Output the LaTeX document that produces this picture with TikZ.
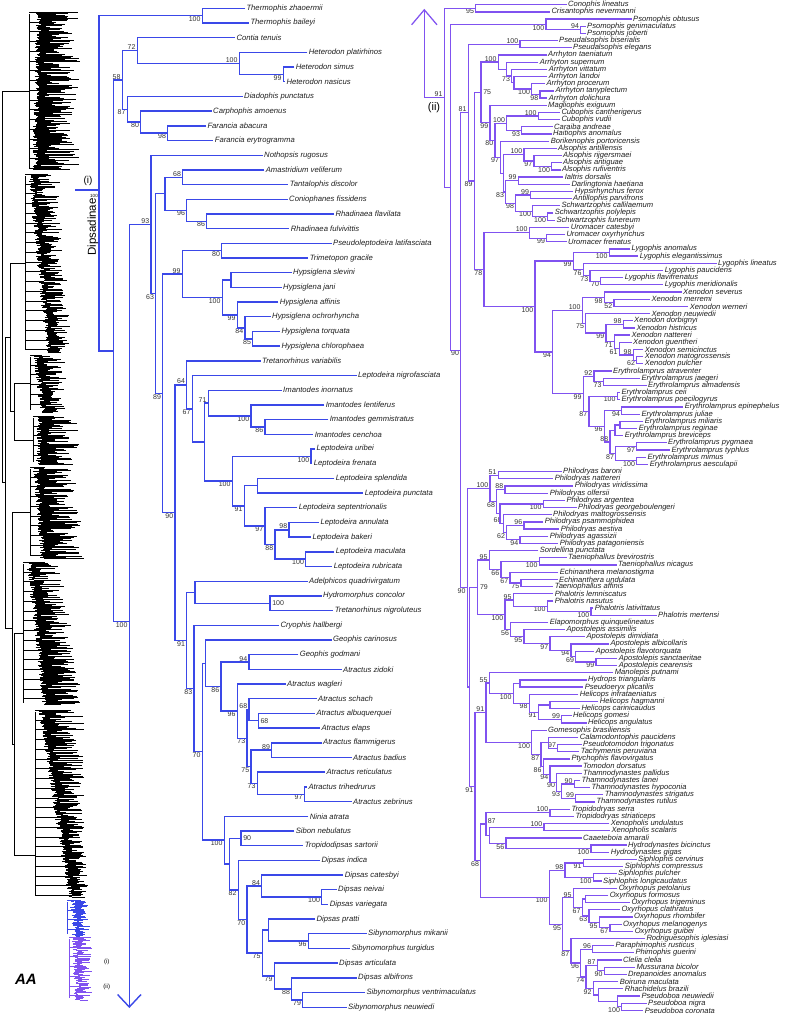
\documentclass[tikz,border=0pt]{standalone}
\usepackage{fontspec}
\setmainfont{Liberation Sans}
\usetikzlibrary{calc}
\definecolor{cbi}{RGB}{58,72,232}
\definecolor{cbii}{RGB}{128,82,240}
\newcommand\LfA[4]{\coordinate (#1) at (#3,{8.3+(#2-1)*14.69}); \node[lfA] (#1t) at (#1) {#4};}
\newcommand\LfB[4]{\coordinate (#1) at (#3,{4.7+(#2-1)*7.183}); \node[lfB] (#1t) at (#1) {#4};}
\newcommand\Nu[5]{\path let \p1=(#4), \p2=(#5) in coordinate (#2) at (#3,{0.5*(\y1)+0.5*(\y2)}); \draw[#1] (#4) -| (#2) |- (#5);}
\newcommand\Nd[7]{\Nu{#1}{#2}{#3}{#4}{#5}\node[bs,#7] (#2l) at (#2) {#6};}
\tikzset{
 brI/.style={draw=cbi, line width=1.4pt, line join=miter},
 brII/.style={draw=cbii, line width=1.25pt, line join=miter},
 lfA/.style={anchor=west, inner sep=1.3pt, font=\itshape\fontsize{7.7}{8}\selectfont, text=black!88},
 lfB/.style={anchor=west, inner sep=1.3pt, font=\itshape\fontsize{7.6}{8}\selectfont, text=black!88},
 bs/.style={inner sep=0.6pt, font=\fontsize{7}{7}\selectfont, text=black!80},
 labAL/.style={anchor=south east, xshift=-1pt},
 labBL/.style={anchor=north east, xshift=-1pt},
 labR/.style={anchor=west, xshift=1.5pt},
 labAR/.style={anchor=south west, xshift=1pt},
 fz/.style={line width=0.45pt},
}
\begin{document}
\begin{tikzpicture}[x=1pt,y=-1pt]
\useasboundingbox (0,0) rectangle (785,1015);
% ---------------- left overview tree ----------------
\pgfmathsetseed{11}
\foreach \fya/\fyb/\fsa/\fsb/\fla/\flb/\fcc in {
 12/170/36/32/40/42/black,
 174/352/28/46/26/22/black,
 355/412/33/40/28/22/black,
 416/464/36/36/42/35/black,
 467/558/33/40/35/42/black,
 562/705/26/42/28/38/black,
 710/898/38/68/40/18/black,
 900/936/70/72/14/14/cbi,
 937/1000/72/74/16/12/cbii}{
  \pgfmathtruncatemacro{\fnn}{(\fyb-\fya)/0.75}
  \pgfmathsetmacro{\fxst}{min(\fsa,\fsb)-3}
  \draw[fz,draw=\fcc] (\fxst,{\fya+2}) -- (\fxst,{\fyb-2});
  \foreach \fk in {0,...,\fnn}{
    \pgfmathsetmacro{\fyy}{\fya+\fk*0.75}
    \pgfmathsetmacro{\ftq}{\fk/\fnn}
    \pgfmathsetmacro{\fxs}{\fsa+(\fsb-\fsa)*\ftq+6*rnd}
    \pgfmathsetmacro{\fxe}{\fxs+(\fla+(\flb-\fla)*\ftq)*(0.15+0.85*rnd)}
    \pgfmathsetmacro{\fxb}{mod(\fk,13)==0 ? \fxst : \fxs}
    \draw[fz,draw=\fcc] (\fxb,\fyy) -- (\fxe,\fyy);
  }
}
\draw[fz] (30,91) -| (2,482) -- (5,482);
\draw[fz] (10,337) -| (5,628) -- (12,628);
\draw[fz] (25,263) -| (10,411) -- (14,411);
\draw[fz] (30,383) -| (14,440) -- (33,440);
\draw[fz] (30,512) -| (12,744) -- (14,744);
\draw[fz] (23,633) -| (14,855) -- (35,855);
\node[font=\bfseries\itshape\fontsize{15}{15}\selectfont] (tAA) at (26,979) {AA};
\node[font=\fontsize{6}{6}\selectfont] (tbi) at (106.7,961.7) {(i)};
\node[font=\fontsize{6}{6}\selectfont] (tbii) at (106.7,986.7) {(ii)};
% ---------------- panel (i) ----------------
\LfA{a1}{1}{245}{Thermophis zhaoermii}
\LfA{a2}{2}{249}{Thermophis baileyi}
\LfA{a3}{3}{235}{Contia tenuis}
\LfA{a4}{4}{307.3}{Heterodon platirhinos}
\LfA{a5}{5}{294.3}{Heterodon simus}
\LfA{a6}{6}{285}{Heterodon nasicus}
\LfA{a7}{7}{242.7}{Diadophis punctatus}
\LfA{a8}{8}{211.7}{Carphophis amoenus}
\LfA{a9}{9}{206}{Farancia abacura}
\LfA{a10}{10}{213.3}{Farancia erytrogramma}
\LfA{a11}{11}{262.7}{Nothopsis rugosus}
\LfA{a12}{12}{264.3}{Amastridium veliferum}
\LfA{a13}{13}{288.3}{Tantalophis discolor}
\LfA{a14}{14}{287.7}{Coniophanes fissidens}
\LfA{a15}{15}{334}{Rhadinaea flavilata}
\LfA{a16}{16}{289.3}{Rhadinaea fulvivittis}
\LfA{a17}{17}{331.7}{Pseudoleptodeira latifasciata}
\LfA{a18}{18}{308.3}{Trimetopon gracile}
\LfA{a19}{19}{291.7}{Hypsiglena slevini}
\LfA{a20}{20}{281.7}{Hypsiglena jani}
\LfA{a21}{21}{278.3}{Hypsiglena affinis}
\LfA{a22}{22}{270.7}{Hypsiglena ochrorhyncha}
\LfA{a23}{23}{280}{Hypsiglena torquata}
\LfA{a24}{24}{280}{Hypsiglena chlorophaea}
\LfA{a25}{25}{260.7}{Tretanorhinus variabilis}
\LfA{a26}{26}{356.7}{Leptodeira nigrofasciata}
\LfA{a27}{27}{281.7}{Imantodes inornatus}
\LfA{a28}{28}{324.3}{Imantodes lentiferus}
\LfA{a29}{29}{328.3}{Imantodes gemmistratus}
\LfA{a30}{30}{313.3}{Imantodes cenchoa}
\LfA{a31}{31}{315}{Leptodeira uribei}
\LfA{a32}{32}{312.3}{Leptodeira frenata}
\LfA{a33}{33}{334.3}{Leptodeira splendida}
\LfA{a34}{34}{363.3}{Leptodeira punctata}
\LfA{a35}{35}{297.3}{Leptodeira septentrionalis}
\LfA{a36}{36}{319}{Leptodeira annulata}
\LfA{a37}{37}{311}{Leptodeira bakeri}
\LfA{a38}{38}{334.3}{Leptodeira maculata}
\LfA{a39}{39}{332.3}{Leptodeira rubricata}
\LfA{a40}{40}{307.7}{Adelphicos quadrivirgatum}
\LfA{a41}{41}{321.7}{Hydromorphus concolor}
\LfA{a42}{42}{333.3}{Tretanorhinus nigroluteus}
\LfA{a43}{43}{279}{Cryophis hallbergi}
\LfA{a44}{44}{331.7}{Geophis carinosus}
\LfA{a45}{45}{298.3}{Geophis godmani}
\LfA{a46}{46}{341.7}{Atractus zidoki}
\LfA{a47}{47}{285.7}{Atractus wagleri}
\LfA{a48}{48}{316.7}{Atractus schach}
\LfA{a49}{49}{315}{Atractus albuquerquei}
\LfA{a50}{50}{320}{Atractus elaps}
\LfA{a51}{51}{321.7}{Atractus flammigerus}
\LfA{a52}{52}{351.7}{Atractus badius}
\LfA{a53}{53}{325}{Atractus reticulatus}
\LfA{a54}{54}{307}{Atractus trihedrurus}
\LfA{a55}{55}{351.7}{Atractus zebrinus}
\LfA{a56}{56}{308.3}{Ninia atrata}
\LfA{a57}{57}{294.3}{Sibon nebulatus}
\LfA{a58}{58}{303.3}{Tropidodipsas sartorii}
\LfA{a59}{59}{320}{Dipsas indica}
\LfA{a60}{60}{343.3}{Dipsas catesbyi}
\LfA{a61}{61}{336.7}{Dipsas neivai}
\LfA{a62}{62}{328.3}{Dipsas variegata}
\LfA{a63}{63}{315}{Dipsas pratti}
\LfA{a64}{64}{366.7}{Sibynomorphus mikanii}
\LfA{a65}{65}{350}{Sibynomorphus turgidus}
\LfA{a66}{66}{337.7}{Dipsas articulata}
\LfA{a67}{67}{356.7}{Dipsas albifrons}
\LfA{a68}{68}{365}{Sibynomorphus ventrimaculatus}
\LfA{a69}{69}{346.7}{Sibynomorphus neuwiedi}
\Nd{brI}{pT}{202.3}{a1}{a2}{100}{labBL}
\Nd{brI}{ph99}{283.3}{a5}{a6}{99}{labBL}
\Nd{brI}{ph100}{239.3}{a4}{ph99}{100}{labAL}
\Nd{brI}{p72}{137.3}{a3}{ph100}{72}{labAL}
\Nd{brI}{pf98}{167.7}{a9}{a10}{98}{labBL}
\Nd{brI}{p80}{140.7}{a8}{pf98}{80}{labBL}
\Nd{brI}{p87}{127.3}{a7}{p80}{87}{labBL}
\Nd{brI}{p58}{122.3}{p72}{p87}{58}{labAL}
\Nd{brI}{pam68}{182.7}{a12}{a13}{68}{labAL}
\Nd{brI}{prh86}{206.7}{a15}{a16}{86}{labBL}
\Nd{brI}{pco96}{186.7}{a14}{prh86}{96}{labBL}
\Nu{brI}{pnA}{165}{pam68}{pco96}
\Nd{brI}{pps80}{221.7}{a17}{a18}{80}{labBL}
\Nu{brI}{phsj}{231}{a19}{a20}
\Nd{brI}{ph85}{252.7}{a23}{a24}{85}{labBL}
\Nd{brI}{ph84}{245}{a22}{ph85}{84}{labBL}
\Nd{brI}{phy99}{237.3}{a21}{ph84}{99}{labBL}
\Nd{brI}{phy100}{222.3}{phsj}{phy99}{100}{labBL}
\Nd{brI}{pn99}{182.3}{pps80}{phy100}{99}{labAL}
\Nd{brI}{pi86}{265}{a29}{a30}{86}{labBL}
\Nd{brI}{pi100}{251}{a28}{pi86}{100}{labBL}
\Nd{brI}{pi71}{208.3}{a27}{pi100}{71}{labAL}
\Nd{brI}{puf100}{311}{a31}{a32}{100}{labBL}
\Nu{brI}{plsp}{257.7}{a33}{a34}
\Nd{brI}{pl98}{289}{a36}{a37}{98}{labAL}
\Nd{brI}{pl100}{305.7}{a38}{a39}{100}{labBL}
\Nd{brI}{pl88}{275}{pl98}{pl100}{88}{labBL}
\Nd{brI}{pl97}{265}{a35}{pl88}{97}{labBL}
\Nd{brI}{pl91}{244.3}{plsp}{pl97}{91}{labBL}
\Nd{brI}{pL100}{232.3}{puf100}{pl91}{100}{labBL}
\Nu{brI}{pnim}{204.3}{pi71}{pL100}
\Nd{brI}{pn67}{192.3}{a26}{pnim}{67}{labBL}
\Nd{brI}{pn64}{186.7}{a25}{pn67}{64}{labAL}
\Nd{brI}{phd100}{270}{a41}{a42}{100}{labR}
\Nu{brI}{pnad}{195}{a40}{phd100}
\Nd{brI}{pg94}{249}{a45}{a46}{94}{labAL}
\Nd{brI}{pae68}{258.3}{a49}{a50}{68}{labR}
\Nd{brI}{ps68}{249}{a48}{pae68}{68}{labAL}
\Nd{brI}{pf89}{271.7}{a51}{a52}{89}{labAL}
\Nd{brI}{pt97}{304.3}{a54}{a55}{97}{labBL}
\Nd{brI}{pr73}{257.3}{a53}{pt97}{73}{labBL}
\Nd{brI}{pa75}{251}{pf89}{pr73}{75}{labBL}
\Nd{brI}{pa73}{247}{ps68}{pa75}{73}{labBL}
\Nd{brI}{pa96}{237.3}{a47}{pa73}{96}{labBL}
\Nd{brI}{pg86}{221}{pg94}{pa96}{86}{labBL}
\Nu{brI}{pngc}{205.7}{a44}{pg86}
\Nd{brI}{ps90}{241}{a57}{a58}{90}{labR}
\Nd{brI}{pdv100}{321.7}{a61}{a62}{100}{labBL}
\Nd{brI}{pd84}{261.7}{a60}{pdv100}{84}{labAL}
\Nd{brI}{ps96}{308.3}{a64}{a65}{96}{labBL}
\Nu{brI}{pnps}{268.3}{a63}{ps96}
\Nd{brI}{ps79}{302.7}{a68}{a69}{79}{labBL}
\Nd{brI}{pd88}{291.7}{a67}{ps79}{88}{labBL}
\Nd{brI}{pd79}{274.3}{a66}{pd88}{79}{labBL}
\Nd{brI}{pd75}{262.3}{pnps}{pd79}{75}{labBL}
\Nd{brI}{pd70}{247}{pd84}{pd75}{70}{labBL}
\Nd{brI}{pd82}{238.3}{a59}{pd70}{82}{labBL}
\Nu{brI}{pnx}{229.3}{ps90}{pd82}
\Nd{brI}{pn100n}{224.3}{a56}{pnx}{100}{labBL}
\Nd{brI}{pn70}{202.3}{pngc}{pn100n}{70}{labBL}
\Nd{brI}{pn83}{194}{a43}{pn70}{83}{labBL}
\Nd{brI}{pn91}{186.7}{pnad}{pn83}{91}{labBL}
\Nd{brI}{pn90}{175}{pn64}{pn91}{90}{labBL}
\Nd{brI}{pn89}{162.7}{pn99}{pn90}{89}{labBL}
\Nd{brI}{pn63}{155.7}{pnA}{pn89}{63}{labBL}
\Nd{brI}{pn93}{151}{a11}{pn63}{93}{labAL}
\coordinate (pC) at (129.3,621.7);
\draw[brI] (pn93) -| (pC);
\node[bs,labBL] (pCl) at (pC) {100};
\coordinate (pCend) at (129.3,1007);
\draw[brI] (pC) -- (pCend);
\draw[brI] ([shift={(-11.7,-12.5)}]pCend) -- (pCend) -- ([shift={(11.7,-12.5)}]pCend);
\Nu{brI}{pB}{113.3}{p58}{pC}
\coordinate (pR) at (99,190);
\draw[brI] (pT) -| (pR) |- (pB);
\coordinate (pRs) at (75,190);
\draw[brI] (pR) -- (pRs);
\node[font=\fontsize{10}{11}\selectfont] (ti) at (88,181) {(i)};
\node[font=\fontsize{4.5}{5}\selectfont] (t100) at (94,195.5) {100};
\node[rotate=90, font=\fontsize{11.5}{12}\selectfont] (tdip) at (93,227) {Dipsadinae};
% ---------------- panel (ii) ----------------
\LfB{b1}{1}{566.7}{Conophis lineatus}
\LfB{b2}{2}{550}{Crisantophis nevermanni}
\LfB{b3}{3}{631.7}{Psomophis obtusus}
\LfB{b4}{4}{585.7}{Psomophis genimaculatus}
\LfB{b5}{5}{585.7}{Psomophis joberti}
\LfB{b6}{6}{557.7}{Pseudalsophis biserialis}
\LfB{b7}{7}{571.7}{Pseudalsophis elegans}
\LfB{b8}{8}{546.7}{Arrhyton taeniatum}
\LfB{b9}{9}{538.3}{Arrhyton supernum}
\LfB{b10}{10}{547.3}{Arrhyton vittatum}
\LfB{b11}{11}{547.3}{Arrhyton landoi}
\LfB{b12}{12}{545}{Arrhyton procerum}
\LfB{b13}{13}{554}{Arrhyton tanyplectum}
\LfB{b14}{14}{547.3}{Arrhyton dolichura}
\LfB{b15}{15}{546.7}{Magliophis exiguum}
\LfB{b16}{16}{560}{Cubophis cantherigerus}
\LfB{b17}{17}{560}{Cubophis vudii}
\LfB{b18}{18}{552.7}{Caraiba andreae}
\LfB{b19}{19}{551.7}{Haitiophis anomalus}
\LfB{b20}{20}{549.3}{Borikenophis portoricensis}
\LfB{b21}{21}{556.7}{Alsophis antillensis}
\LfB{b22}{22}{561.7}{Alsophis rijgersmaei}
\LfB{b23}{23}{561.7}{Alsophis antiguae}
\LfB{b24}{24}{560.7}{Alsophis rufiventris}
\LfB{b25}{25}{563.3}{Ialtris dorsalis}
\LfB{b26}{26}{570}{Darlingtonia haetiana}
\LfB{b27}{27}{573.3}{Hypsirhynchus ferox}
\LfB{b28}{28}{571.7}{Antillophis parvifrons}
\LfB{b29}{29}{560}{Schwartzophis callilaemum}
\LfB{b30}{30}{553.3}{Schwartzophis polylepis}
\LfB{b31}{31}{555}{Schwartzophis funereum}
\LfB{b32}{32}{569.3}{Uromacer catesbyi}
\LfB{b33}{33}{565}{Uromacer oxyrhynchus}
\LfB{b34}{34}{566.7}{Uromacer frenatus}
\LfB{b35}{35}{630}{Lygophis anomalus}
\LfB{b36}{36}{638.3}{Lygophis elegantissimus}
\LfB{b37}{37}{716.7}{Lygophis lineatus}
\LfB{b38}{38}{663.3}{Lygophis paucidens}
\LfB{b39}{39}{623.3}{Lygophis flavifrenatus}
\LfB{b40}{40}{663.3}{Lygophis meridionalis}
\LfB{b41}{41}{681.7}{Xenodon severus}
\LfB{b42}{42}{650}{Xenodon merremi}
\LfB{b43}{43}{688.3}{Xenodon werneri}
\LfB{b44}{44}{650}{Xenodon neuwiedii}
\LfB{b45}{45}{632.7}{Xenodon dorbignyi}
\LfB{b46}{46}{635}{Xenodon histricus}
\LfB{b47}{47}{630}{Xenodon nattereri}
\LfB{b48}{48}{631.7}{Xenodon guentheri}
\LfB{b49}{49}{643.3}{Xenodon semicinctus}
\LfB{b50}{50}{643.3}{Xenodon matogrossensis}
\LfB{b51}{51}{643.3}{Xenodon pulcher}
\LfB{b52}{52}{611.7}{Erythrolamprus atraventer}
\LfB{b53}{53}{640}{Erythrolamprus jaegeri}
\LfB{b54}{54}{646.7}{Erythrolamprus almadensis}
\LfB{b55}{55}{620}{Erythrolamprus ceii}
\LfB{b56}{56}{620}{Erythrolamprus poecilogyrus}
\LfB{b57}{57}{683.3}{Erythrolamprus epinephelus}
\LfB{b58}{58}{640}{Erythrolamprus juliae}
\LfB{b59}{59}{643.3}{Erythrolamprus miliaris}
\LfB{b60}{60}{637.3}{Erythrolamprus reginae}
\LfB{b61}{61}{623.3}{Erythrolamprus breviceps}
\LfB{b62}{62}{666.7}{Erythrolamprus pygmaea}
\LfB{b63}{63}{670}{Erythrolamprus typhlus}
\LfB{b64}{64}{646}{Erythrolamprus mimus}
\LfB{b65}{65}{648.3}{Erythrolamprus aesculapii}
\LfB{b66}{66}{561.7}{Philodryas baroni}
\LfB{b67}{67}{553.3}{Philodryas nattereri}
\LfB{b68}{68}{573.3}{Philodryas viridissima}
\LfB{b69}{69}{548.3}{Philodryas olfersii}
\LfB{b70}{70}{565}{Philodryas argentea}
\LfB{b71}{71}{576.7}{Philodryas georgeboulengeri}
\LfB{b72}{72}{551.7}{Philodryas mattogrossensis}
\LfB{b73}{73}{543.3}{Philodryas psammophidea}
\LfB{b74}{74}{559.3}{Philodryas aestiva}
\LfB{b75}{75}{548.3}{Philodryas agassizii}
\LfB{b76}{76}{558.3}{Philodryas patagoniensis}
\LfB{b77}{77}{538.3}{Sordellina punctata}
\LfB{b78}{78}{566.7}{Taeniophallus brevirostris}
\LfB{b79}{79}{616.7}{Taeniophallus nicagus}
\LfB{b80}{80}{558.3}{Echinanthera melanostigma}
\LfB{b81}{81}{557.7}{Echinanthera undulata}
\LfB{b82}{82}{553.3}{Taeniophallus affinis}
\LfB{b83}{83}{553.3}{Phalotris lemniscatus}
\LfB{b84}{84}{553.3}{Phalotris nasutus}
\LfB{b85}{85}{593.3}{Phalotris lativittatus}
\LfB{b86}{86}{656.7}{Phalotris mertensi}
\LfB{b87}{87}{548.3}{Elapomorphus quinquelineatus}
\LfB{b88}{88}{565}{Apostolepis assimilis}
\LfB{b89}{89}{585}{Apostolepis dimidiata}
\LfB{b90}{90}{609}{Apostolepis albicollaris}
\LfB{b91}{91}{594.3}{Apostolepis flavotorquata}
\LfB{b92}{92}{617.3}{Apostolepis sanctaeritae}
\LfB{b93}{93}{617.3}{Apostolepis cearensis}
\LfB{b94}{94}{613.3}{Manolepis putnami}
\LfB{b95}{95}{586.7}{Hydrops triangularis}
\LfB{b96}{96}{583.3}{Pseudoeryx plicatilis}
\LfB{b97}{97}{578.3}{Helicops infrataeniatus}
\LfB{b98}{98}{598.3}{Helicops hagmanni}
\LfB{b99}{99}{580}{Helicops carinicaudus}
\LfB{b100}{100}{571.7}{Helicops gomesi}
\LfB{b101}{101}{586.7}{Helicops angulatus}
\LfB{b102}{102}{546.7}{Gomesophis brasiliensis}
\LfB{b103}{103}{578.3}{Calamodontophis paucidens}
\LfB{b104}{104}{581.7}{Pseudotomodon trigonatus}
\LfB{b105}{105}{579.3}{Tachymenis peruviana}
\LfB{b106}{106}{570}{Ptychophis flavovirgatus}
\LfB{b107}{107}{581.7}{Tomodon dorsatus}
\LfB{b108}{108}{581.7}{Thamnodynastes pallidus}
\LfB{b109}{109}{580}{Thamnodynastes lanei}
\LfB{b110}{110}{590}{Thamnodynastes hypoconia}
\LfB{b111}{111}{603.3}{Thamnodynastes strigatus}
\LfB{b112}{112}{595}{Thamnodynastes rutilus}
\LfB{b113}{113}{570}{Tropidodryas serra}
\LfB{b114}{114}{574}{Tropidodryas striaticeps}
\LfB{b115}{115}{609.3}{Xenopholis undulatus}
\LfB{b116}{116}{610}{Xenopholis scalaris}
\LfB{b117}{117}{581.7}{Caaeteboia amarali}
\LfB{b118}{118}{626.7}{Hydrodynastes bicinctus}
\LfB{b119}{119}{609.3}{Hydrodynastes gigas}
\LfB{b120}{120}{636.7}{Siphlophis cervinus}
\LfB{b121}{121}{623.3}{Siphlophis compressus}
\LfB{b122}{122}{616.7}{Siphlophis pulcher}
\LfB{b123}{123}{601.7}{Siphlophis longicaudatus}
\LfB{b124}{124}{617.3}{Oxyrhopus petolarius}
\LfB{b125}{125}{608.3}{Oxyrhopus formosus}
\LfB{b126}{126}{630}{Oxyrhopus trigeminus}
\LfB{b127}{127}{620}{Oxyrhopus clathratus}
\LfB{b128}{128}{632.7}{Oxyrhopus rhombifer}
\LfB{b129}{129}{621.7}{Oxyrhopus melanogenys}
\LfB{b130}{130}{633.3}{Oxyrhopus guibei}
\LfB{b131}{131}{645}{Rodriguesophis iglesiasi}
\LfB{b132}{132}{614}{Paraphimophis rusticus}
\LfB{b133}{133}{634}{Phimophis guerini}
\LfB{b134}{134}{621.7}{Clelia clelia}
\LfB{b135}{135}{635}{Mussurana bicolor}
\LfB{b136}{136}{626.7}{Drepanoides anomalus}
\LfB{b137}{137}{618.3}{Boiruna maculata}
\LfB{b138}{138}{623.3}{Rhachidelus brazili}
\LfB{b139}{139}{640}{Pseudoboa neuwiedii}
\LfB{b140}{140}{646.7}{Pseudoboa nigra}
\LfB{b141}{141}{643.3}{Pseudoboa coronata}
\Nd{brII}{qc95}{475.7}{b1}{b2}{95}{labBL}
\Nd{brII}{qp94}{580.7}{b4}{b5}{94}{labAL}
\Nd{brII}{qp100}{546}{b3}{qp94}{100}{labBL}
\Nd{brII}{qpa100}{520}{b6}{b7}{100}{labAL}
\Nd{brII}{qa98}{540}{b13}{b14}{98}{labBL}
\Nd{brII}{qa100b}{531.7}{b12}{qa98}{100}{labBL}
\Nu{brII}{qa4}{514}{b11}{qa100b}
\Nd{brII}{qa73}{511.7}{b10}{qa4}{73}{labBL}
\Nu{brII}{qa2}{506.7}{b9}{qa73}
\Nd{brII}{qa100}{498.3}{b8}{qa2}{100}{labAL}
\Nd{brII}{qcu100}{538.3}{b16}{b17}{100}{labAL}
\Nd{brII}{qh93}{521.7}{b18}{b19}{93}{labBL}
\Nd{brII}{qch100}{506.7}{qcu100}{qh93}{100}{labAL}
\Nd{brII}{qar100}{551.7}{b23}{b24}{100}{labBL}
\Nd{brII}{qal97}{534}{b22}{qar100}{97}{labBL}
\Nd{brII}{qal100}{524}{b21}{qal97}{100}{labAL}
\Nd{brII}{qi99}{518.3}{b25}{b26}{99}{labAL}
\Nd{brII}{qha99}{530.7}{b27}{b28}{99}{labAL}
\Nd{brII}{qs100b}{547.7}{b30}{b31}{100}{labBL}
\Nd{brII}{qs100}{532.7}{b29}{qs100b}{100}{labBL}
\Nd{brII}{qn98}{515.7}{qha99}{qs100}{98}{labBL}
\Nd{brII}{qn83}{505.7}{qi99}{qn98}{83}{labBL}
\Nu{brII}{qnX}{503.3}{qal100}{qn83}
\Nd{brII}{qn97}{500.7}{b20}{qnX}{97}{labBL}
\Nd{brII}{qn80}{495}{qch100}{qn97}{80}{labBL}
\Nd{brII}{qnm99}{490}{b15}{qn80}{99}{labBL}
\Nd{brII}{qn75}{481}{qa100}{qnm99}{75}{labR}
\Nd{brII}{qu99}{546.7}{b33}{b34}{99}{labBL}
\Nd{brII}{qu100}{529.3}{b32}{qu99}{100}{labAL}
\Nd{brII}{qla100}{609.3}{b35}{b36}{100}{labBL}
\Nd{brII}{ql70}{600.7}{b39}{b40}{70}{labBL}
\Nd{brII}{ql73}{590}{b38}{ql70}{73}{labBL}
\Nd{brII}{ql76}{583.3}{b37}{ql73}{76}{labBL}
\Nd{brII}{qly99}{573.3}{qla100}{ql76}{99}{labBL}
\Nd{brII}{qx52}{614}{b42}{b43}{52}{labBL}
\Nd{brII}{qx98}{604.3}{b41}{qx52}{98}{labBL}
\Nd{brII}{qxd98}{623.3}{b45}{b46}{98}{labAL}
\Nd{brII}{qx62}{636.7}{b50}{b51}{62}{labBL}
\Nd{brII}{qxs98}{633.3}{b49}{qx62}{98}{labAL}
\Nd{brII}{qx61}{619.3}{b48}{qxs98}{61}{labBL}
\Nd{brII}{qx71}{614.3}{b47}{qx61}{71}{labBL}
\Nd{brII}{qx99}{606}{qxd98}{qx71}{99}{labBL}
\Nd{brII}{qx75}{585.7}{b44}{qx99}{75}{labBL}
\Nd{brII}{qxa100}{582.3}{qx98}{qx75}{100}{labAL}
\Nd{brII}{qe73}{603.3}{b53}{b54}{73}{labBL}
\Nd{brII}{qe92}{594}{b52}{qe73}{92}{labAL}
\Nd{brII}{qcp100}{617.3}{b55}{b56}{100}{labBL}
\Nd{brII}{qj94}{621.7}{b57}{b58}{94}{labBL}
\Nu{brII}{qemr}{620}{b59}{b60}
\Nu{brII}{qemrb}{615}{qemr}{b61}
\Nd{brII}{qp97}{636.7}{b62}{b63}{97}{labBL}
\Nd{brII}{qma100}{636.7}{b64}{b65}{100}{labBL}
\Nd{brII}{qp87}{615.7}{qp97}{qma100}{87}{labBL}
\Nd{brII}{qe88}{610}{qemrb}{qp87}{88}{labAL}
\Nd{brII}{qe96}{604.3}{qj94}{qe88}{96}{labBL}
\Nd{brII}{qe87}{589}{qcp100}{qe96}{87}{labBL}
\Nd{brII}{qe99}{583.3}{qe92}{qe87}{99}{labBL}
\Nd{brII}{qx94}{552.7}{qxa100}{qe99}{94}{labBL}
\Nd{brII}{qx100}{535}{qly99}{qx94}{100}{labBL}
\Nd{brII}{qn78}{484}{qu100}{qx100}{78}{labBL}
\Nd{brII}{qn89}{474.3}{qn75}{qn78}{89}{labBL}
\Nd{brII}{qn81}{468.3}{qpa100}{qn89}{81}{labAL}
\Nd{brII}{qp51}{498.3}{b66}{b67}{51}{labAL}
\Nd{brII}{qp88}{505}{b68}{b69}{88}{labAL}
\Nd{brII}{qag100}{543.3}{b70}{b71}{100}{labBL}
\Nd{brII}{qp96}{524}{b73}{b74}{96}{labAL}
\Nd{brII}{qp94b}{520}{b75}{b76}{94}{labBL}
\Nd{brII}{qp62}{506.7}{qp96}{qp94b}{62}{labBL}
\Nd{brII}{qp68b}{503.3}{b72}{qp62}{68}{labAL}
\Nu{brII}{qp68a}{500}{qag100}{qp68b}
\Nd{brII}{qpc68}{496.7}{qp88}{qp68a}{68}{labBL}
\Nd{brII}{qph100}{490}{qp51}{qpc68}{100}{labAL}
\Nd{brII}{qt100}{539.3}{b78}{b79}{100}{labBL}
\Nd{brII}{qe75}{521}{b81}{b82}{75}{labBL}
\Nd{brII}{qe67}{510}{b80}{qe75}{67}{labBL}
\Nd{brII}{qe66}{501}{qt100}{qe67}{66}{labBL}
\Nd{brII}{qs95}{489.3}{b77}{qe66}{95}{labAL}
\Nd{brII}{qlm100}{591}{b85}{b86}{100}{labBL}
\Nd{brII}{qpl100}{547.3}{b84}{qlm100}{100}{labBL}
\Nd{brII}{qph95}{513.3}{b83}{qpl100}{95}{labAL}
\Nd{brII}{qac99}{596}{b92}{b93}{99}{labBL}
\Nd{brII}{qa69}{575.7}{b91}{qac99}{69}{labBL}
\Nd{brII}{qa94}{571}{b90}{qa69}{94}{labBL}
\Nd{brII}{qa97}{550}{b89}{qa94}{97}{labBL}
\Nd{brII}{qa95}{524}{b88}{qa97}{95}{labBL}
\Nd{brII}{qa56}{510.7}{b87}{qa95}{56}{labBL}
\Nd{brII}{qel100}{505}{qph95}{qa56}{100}{labBL}
\Nd{brII}{qn79}{477.7}{qs95}{qel100}{79}{labR}
\Nu{brII}{qhp}{520}{b95}{b96}
\Nu{brII}{qhc}{550}{b98}{b99}
\Nd{brII}{qhg99}{561.7}{b100}{b101}{99}{labAL}
\Nd{brII}{qh91}{538.3}{qhc}{qhg99}{91}{labBL}
\Nd{brII}{qh98}{529.3}{b97}{qh91}{98}{labBL}
\Nd{brII}{qhy100}{513.3}{qhp}{qh98}{100}{labBL}
\Nd{brII}{qm55}{489.3}{b94}{qhy100}{55}{labAL}
\Nd{brII}{qt99}{575.7}{b111}{b112}{99}{labAL}
\Nd{brII}{qt90}{574.3}{b109}{b110}{90}{labAL}
\Nd{brII}{qt93}{561.7}{qt90}{qt99}{93}{labBL}
\Nd{brII}{qt90b}{556.7}{b108}{qt93}{90}{labBL}
\Nd{brII}{qt94}{550}{b107}{qt90b}{94}{labBL}
\Nd{brII}{qt86}{543.3}{b106}{qt94}{86}{labBL}
\Nd{brII}{qt97}{557.7}{b104}{b105}{97}{labAL}
\Nu{brII}{qtcal}{548.3}{b103}{qt97}
\Nd{brII}{qt87}{541}{qtcal}{qt86}{87}{labBL}
\Nd{brII}{qta100}{531.7}{b102}{qt87}{100}{labBL}
\Nd{brII}{qc91}{486}{qm55}{qta100}{91}{labAL}
\Nd{brII}{qtr100}{550}{b113}{b114}{100}{labAL}
\Nd{brII}{qxe100}{544}{b115}{b116}{100}{labAL}
\Nd{brII}{qhd100}{591}{b118}{b119}{100}{labBL}
\Nd{brII}{qc56}{506}{b117}{qhd100}{56}{labBL}
\Nu{brII}{qxc}{489.3}{qxe100}{qc56}
\Nd{brII}{qn87}{486}{qtr100}{qxc}{87}{labAR}
\Nd{brII}{qs91}{583.3}{b120}{b121}{91}{labBL}
\Nd{brII}{qsl100}{593.3}{b122}{b123}{100}{labBL}
\Nd{brII}{qs98}{565}{qs91}{qsl100}{98}{labAL}
\Nd{brII}{qo67}{610}{b129}{b130}{67}{labBL}
\Nd{brII}{qo95}{599.3}{b128}{qo67}{95}{labBL}
\Nd{brII}{qo63}{589}{b127}{qo95}{63}{labBL}
\Nu{brII}{qoft}{585.3}{b125}{b126}
\Nd{brII}{qo67b}{582.3}{qoft}{qo63}{67}{labBL}
\Nd{brII}{qo95b}{573.3}{b124}{qo67b}{95}{labAL}
\Nd{brII}{qpp96}{592.7}{b132}{b133}{96}{labAL}
\Nd{brII}{qm90}{604.3}{b135}{b136}{90}{labBL}
\Nd{brII}{qc87}{597.3}{b134}{qm90}{87}{labAL}
\Nd{brII}{qpn100}{621.7}{b140}{b141}{100}{labBL}
\Nu{brII}{qpn}{617.3}{b139}{qpn100}
\Nu{brII}{qrh}{598.3}{b138}{qpn}
\Nd{brII}{qd92}{593.3}{b137}{qrh}{92}{labBL}
\Nd{brII}{qd74}{586}{qc87}{qd92}{74}{labBL}
\Nd{brII}{qd96}{580.7}{qpp96}{qd74}{96}{labBL}
\Nd{brII}{qd87}{571}{b131}{qd96}{87}{labBL}
\Nd{brII}{qd95}{562.7}{qo95b}{qd87}{95}{labBL}
\Nd{brII}{qsx100}{549.3}{qs98}{qd95}{100}{labBL}
\Nd{brII}{qn68}{480.7}{qn87}{qsx100}{68}{labBL}
\Nd{brII}{qn91b}{475}{qc91}{qn68}{91}{labBL}
\Nu{brII}{qW}{469.3}{qn79}{qn91b}
\Nd{brII}{qn90c}{467.3}{qph100}{qW}{90}{labBL}
\Nd{brII}{qn90b}{460.7}{qn81}{qn90c}{90}{labBL}
\Nu{brII}{qnb}{450.7}{qp100}{qn90b}
\Nd{brII}{qR2}{444.3}{qc95}{qnb}{91}{labAL}
\path (qR2) ++(-20,0) coordinate (qAb);
\path (qAb) ++(0,-88) coordinate (qAt);
\draw[brII] (qR2) -- (qAb) -- (qAt);
\draw[brII] ([shift={(-12.7,15)}]qAt) -- (qAt) -- ([shift={(12.7,15)}]qAt);
\node[font=\fontsize{11}{12}\selectfont] (tii) at (434,108) {(ii)};
\end{tikzpicture}
\end{document}
